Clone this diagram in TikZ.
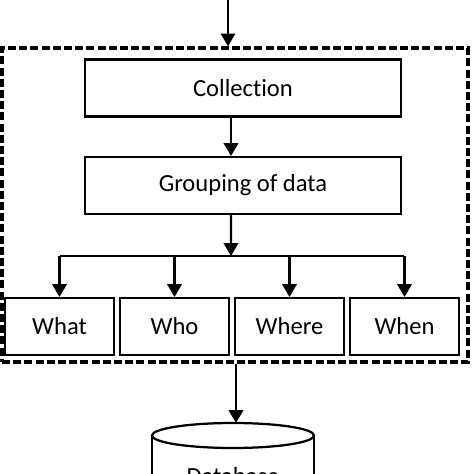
\documentclass[tikz,border=0pt]{standalone}
\usepackage{fontspec}
\setmainfont{Carlito}[Ligatures=CommonOff]
\usetikzlibrary{arrows.meta, positioning, calc}

\begin{document}
\begin{tikzpicture}[
  box/.style={rectangle, draw, line width=1.6pt, minimum height=1.42cm, align=center, font=\fontsize{17.5}{20}\selectfont},
  arr/.style={-{Triangle[width=0.36cm,length=0.32cm]}, line width=1.6pt},
  frame/.style={draw, line width=2.4pt, dash pattern=on 0.2cm off 0.08cm}
]
\useasboundingbox (0,0) rectangle (11.85,11.85);
\clip (0,0) rectangle (11.85,11.85);

\node[frame, minimum width=11.65cm, minimum height=7.85cm] (block) at (5.875,6.725) {};
\node[box, minimum width=7.9cm] (collect) at (6.075,9.65) {Collection};
\node[box, minimum width=7.9cm] (group) at (6.075,7.2125) {Grouping of data};
\node[box, minimum width=2.725cm] (what) at (1.4875,3.6875) {What};
\node[box, minimum width=2.725cm] (who) at (4.3625,3.6875) {Who};
\node[box, minimum width=2.725cm] (where) at (7.2375,3.6875) {Where};
\node[box, minimum width=2.725cm] (when) at (10.1125,3.6875) {When};

\coordinate (in) at (5.7,11.9);
\coordinate (bus) at (5.775,5.45);
\coordinate (dbtop) at (5.9,1.275);
\coordinate (db) at (5.825,0.9625);

\draw[arr] (in) -- (in |- block.north);
\draw[arr] ($(collect.south)+(-0.3,0)$) -- ($(group.north)+(-0.3,0)$);
\draw[arr] ($(group.south)+(-0.3,0)$) -- (bus);
\draw[line width=1.6pt] (bus -| what.north) -- (bus -| when.north);
\draw[arr] (bus -| what.north) -- (what.north);
\draw[arr] (bus -| who.north) -- (who.north);
\draw[arr] (bus -| where.north) -- (where.north);
\draw[arr] (bus -| when.north) -- (when.north);
\draw[arr] (block.south -| dbtop) -- (dbtop);

% database
\draw[line width=1.6pt, fill=white] ($(db)+(-2.025,0)$) -- ++(0,-3) -- ++(4.05,0) -- ++(0,3);
\draw[line width=1.6pt] (db) ellipse (2.025 and 0.3125);
\node[font=\fontsize{17.5}{20}\selectfont] (dbtext) at (5.825,-0.05) {Database};
\end{tikzpicture}
\end{document}
